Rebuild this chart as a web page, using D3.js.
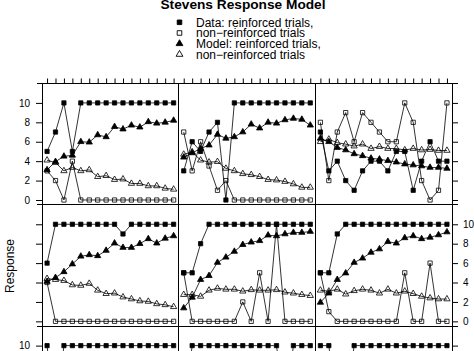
<!DOCTYPE html>
<html>
<head>
<meta charset="utf-8">
<script src="https://cdn.jsdelivr.net/npm/d3@7"></script>
<style>
  body { margin: 0; background: #fff; }
  svg { display: block; font-family: "Liberation Sans", Arial, sans-serif; }
  .axis text { font-size: 10px; fill: #000; }
  .axis line { stroke: #000; }
</style>
</head>
<body>
<div id="chart"></div>
<script>
const trials = [1, 2, 3, 4, 5, 6, 7, 8, 9, 10, 11, 12, 13, 14, 15, 16];
const yTicks = [0, 2, 4, 6, 8, 10];

// one array per panel, left to right then top to bottom (last row is cut off)
const dataReinforced = [
  [5, 7, 10, 5, 10, 10, 10, 10, 10, 10, 10, 10, 10, 10, 10, 10],
  [3, 6, 5, 7, 8, 0, 10, 10, 10, 10, 10, 10, 10, 10, 10, 10],
  [7, 3, 4, 2, 1, 3, 4, 4, 3, 5, 5, 1, 4, 6, 4, 4],
  [6, 10, 10, 10, 10, 10, 10, 10, 10, 9, 10, 10, 10, 10, 10, 10],
  [5, 5, 8, 10, 10, 10, 10, 10, 10, 10, 10, 10, 10, 10, 10, 10],
  [5, 5, 9, 10, 10, 10, 10, 10, 10, 10, 10, 10, 10, 10, 10, 10],
  [10, 2, 10, 10, 10, 10, 10, 10, 10, 10, 10, 10, 10, 10, 10, 10],
  [3, 10, 10, 10, 10, 10, 10, 10, 10, 10, 10, 10, 3, 10, 10, 10],
  [10, 10, 3, 3, 10, 10, 10, 10, 10, 10, 10, 10, 10, 10, 10, 10]
];
const dataNonReinforced = [
  [3, 2, 0, 4, 0, 0, 0, 0, 0, 0, 0, 0, 0, 0, 0, 0],
  [7, 3, 6, 3.5, 1, 2, 0, 0, 0, 0, 0, 0, 0, 0, 0, 0],
  [8, 2, 7, 9, 6, 9, 8, 7, 6, 6, 10, 8, 2, 0, 1, 10],
  [4, 0, 0, 0, 0, 0, 0, 0, 0, 0, 0, 0, 0, 0, 0, 0],
  [5, 0, 0, 0, 0, 0, 0, 2, 0, 5, 0, 10, 0, 0, 0, 0],
  [5, 1, 0, 0, 0, 0, 0, 0, 0, 0, 5, 0, 0, 6, 0, 0],
  [], [], []
];
const modelReinforced = [
  [3.1, 3.95, 4.5, 4.6, 6.0, 5.95, 6.7, 6.5, 7.55, 7.3, 7.7, 7.5, 8.05, 7.9, 8.0, 8.2],
  [4.4, 4.85, 5.3, 5.65, 6.75, 6.35, 6.5, 7.0, 7.8, 7.4, 8.0, 7.9, 8.25, 8.4, 8.3, 7.7],
  [6.35, 6.0, 5.4, 5.15, 4.75, 4.55, 4.3, 4.2, 4.05, 3.9, 3.7, 3.6, 3.5, 3.35, 3.35, 3.25],
  [4.1, 4.5, 5.1, 5.9, 6.7, 6.85, 6.75, 7.3, 8.05, 7.6, 7.6, 8.0, 8.5, 8.05, 8.55, 8.8],
  [1.37, 2.47, 4.3, 4.7, 6.06, 6.6, 7.2, 7.9, 8.15, 8.3, 8.87, 8.8, 9.0, 9.15, 9.15, 9.25],
  [1.95, 2.9, 4.3, 4.97, 6.06, 6.5, 7.1, 7.45, 8.2, 8.05, 8.6, 8.8, 8.5, 8.65, 8.9, 9.2],
  [], [], []
];
const modelNonReinforced = [
  [4.1, 3.85, 3.0, 3.35, 3.0, 3.1, 2.4, 2.5, 2.1, 2.15, 1.7, 1.7, 1.45, 1.45, 1.2, 1.1],
  [4.7, 4.95, 4.1, 3.9, 3.95, 3.25, 3.0, 2.7, 2.6, 2.4, 2.1, 2.05, 1.9, 1.65, 1.3, 1.3],
  [6.0, 6.25, 5.9, 5.75, 5.55, 5.75, 5.3, 5.5, 5.3, 5.3, 5.15, 5.3, 5.15, 5.2, 5.1, 5.1],
  [4.4, 4.3, 4.2, 3.75, 3.7, 3.9, 3.2, 2.85, 2.9, 2.5, 2.3, 2.1, 2.05, 1.8, 1.7, 1.5],
  [2.75, 2.75, 2.57, 3.2, 3.4, 3.3, 3.3, 3.1, 3.25, 3.2, 3.2, 3.25, 3.0, 2.9, 2.75, 2.65],
  [3.2, 3.1, 3.3, 2.8, 3.15, 3.3, 3.2, 2.9, 3.3, 2.9, 3.1, 2.85, 2.57, 2.4, 2.3, 2.3],
  [], [], []
];

const legendLabels = [
  "Data: reinforced trials,",
  "non\u2212reinforced trials",
  "Model: reinforced trials,",
  "non\u2212reinforced trials"
];

const width = 474, height = 351;
const nCols = 3, nRows = 3;
const plotLeft = 42, plotRight = 452, plotTop = 83.5;
const colWidth = (plotRight - plotLeft) / nCols;
const rowHeight = 121.35;

const series = [
  { values: dataReinforced,     symbol: d3.symbolSquare,   size: 18, fill: "#000" },
  { values: dataNonReinforced,  symbol: d3.symbolSquare,   size: 18, fill: "none" },
  { values: modelReinforced,    symbol: d3.symbolTriangle, size: 17, fill: "#000" },
  { values: modelNonReinforced, symbol: d3.symbolTriangle, size: 17, fill: "none" }
];

const svg = d3.select("#chart").append("svg")
  .attr("width", width)
  .attr("height", height);

// title + key
svg.append("text")
  .attr("x", 243)
  .attr("y", 9)
  .attr("text-anchor", "middle")
  .attr("font-size", "13.7px")
  .attr("font-weight", "bold")
  .text("Stevens Response Model");

const legend = svg.append("g")
  .selectAll("g")
  .data(series)
  .enter().append("g")
    .attr("transform", function(d, i) { return "translate(0," + (22.3 + i * 10.68) + ")"; });

legend.append("path")
  .attr("transform", "translate(179.5,0)")
  .attr("d", function(d) { return d3.symbol().type(d.symbol).size(d.size + 3)(); })
  .attr("fill", function(d) { return d.fill; })
  .attr("stroke", "#000")
  .attr("stroke-width", 0.9);

legend.append("text")
  .attr("x", 196)
  .attr("dy", "0.36em")
  .attr("font-size", "12px")
  .text(function(d, i) { return legendLabels[i]; });

// y axis title
svg.append("text")
  .attr("transform", "translate(13.6," + (plotTop + rowHeight * 1.5 + 0.5) + ") rotate(-90)")
  .attr("text-anchor", "middle")
  .attr("font-size", "12px")
  .text("Response");

const y = d3.scaleLinear().domain([-0.5, 12]).range([rowHeight, 0]);

function xFor(col) {
  const left = plotLeft + col * colWidth;
  return d3.scaleLinear().domain([0.4, 16.6]).range([left, left + colWidth]);
}

// top trial ticks
for (let c = 0; c < nCols; c++) {
  const layer = svg.append("g")
    .attr("class", "axis")
    .attr("transform", "translate(0," + plotTop + ")")
    .call(d3.axisTop(xFor(c)).tickValues(trials).tickSize(5).tickFormat(""));
  layer.select(".domain").remove();
}

// y axes, labels alternating left / right like lattice
for (let r = 0; r < nRows; r++) {
  const top = plotTop + r * rowHeight;
  const leftAxis = svg.append("g")
    .attr("class", "axis")
    .attr("transform", "translate(" + plotLeft + "," + top + ")")
    .call(d3.axisLeft(y).tickValues(yTicks).tickSize(6).tickPadding(6)
      .tickFormat(r % 2 === 0 ? d3.format("d") : ""));
  leftAxis.select(".domain").remove();

  const rightAxis = svg.append("g")
    .attr("class", "axis")
    .attr("transform", "translate(" + plotRight + "," + top + ")")
    .call(d3.axisRight(y).tickValues(yTicks).tickSize(6).tickPadding(5)
      .tickFormat(r % 2 === 1 ? d3.format("d") : ""));
  rightAxis.select(".domain").remove();
}

// panel frames
const frame = svg.append("g")
  .attr("stroke", "#000")
  .attr("stroke-width", 1)
  .attr("shape-rendering", "crispEdges");
for (let c = 0; c <= nCols; c++) {
  frame.append("line")
    .attr("x1", plotLeft + c * colWidth).attr("x2", plotLeft + c * colWidth)
    .attr("y1", plotTop).attr("y2", height);
}
for (let r = 0; r <= nRows; r++) {
  frame.append("line")
    .attr("x1", plotLeft - 5.5).attr("x2", plotRight + 6)
    .attr("y1", plotTop + r * rowHeight).attr("y2", plotTop + r * rowHeight);
}

// panels
for (let p = 0; p < nCols * nRows; p++) {
  const col = p % nCols, row = Math.floor(p / nCols);
  const x = xFor(col);
  const panel = svg.append("g")
    .attr("transform", "translate(0," + (plotTop + row * rowHeight) + ")");

  series.forEach(function(s) {
    const points = s.values[p].map(function(v, i) { return { trial: trials[i], value: v }; });
    if (!points.length) { return; }

    const line = d3.line()
      .x(function(d) { return x(d.trial); })
      .y(function(d) { return y(d.value); });

    panel.append("path")
      .attr("d", line(points))
      .attr("fill", "none")
      .attr("stroke", "#000")
      .attr("stroke-width", 0.8);

    panel.selectAll(null)
      .data(points)
      .enter().append("path")
        .attr("transform", function(d) { return "translate(" + x(d.trial) + "," + y(d.value) + ")"; })
        .attr("d", d3.symbol().type(s.symbol).size(s.size)())
        .attr("fill", s.fill)
        .attr("stroke", "#000")
        .attr("stroke-width", 0.8);
  });
}
</script>
</body>
</html>
